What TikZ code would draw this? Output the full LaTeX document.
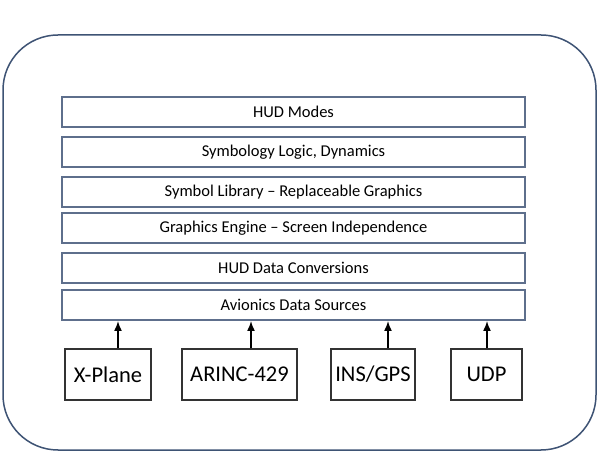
\documentclass[tikz,border=0pt]{standalone}
\usepackage{fontspec}
\setmainfont{Carlito}
\usetikzlibrary{arrows.meta}
\begin{document}
\begin{tikzpicture}[x=1pt,y=-1pt,
layer/.style={draw=layerc,line width=1.8pt,minimum width=463pt,minimum height=30pt,inner sep=0pt,font=\fontsize{16.5}{18}\selectfont},
src/.style={draw=black!80,line width=1.2pt,minimum height=51pt,inner sep=0pt,font=\fontsize{22.5}{26}\selectfont},
arr/.style={-{Latex[length=10pt,width=8pt]},line width=1.5pt}]
\definecolor{layerc}{HTML}{5E6F8C}
\definecolor{outerc}{HTML}{3E5374}
\useasboundingbox (0,0) rectangle (600,454);
\draw[outerc,line width=1.5pt,rounded corners=55pt] (3,35) rectangle (596,450);
\node[layer] (l1) at (293.5,112) {HUD Modes};
\node[layer] (l2) at (293.5,152) {Symbology Logic, Dynamics};
\node[layer] (l3) at (293.5,192) {Symbol Library -- Replaceable Graphics};
\node[layer] (l4) at (293.5,228) {Graphics Engine -- Screen Independence};
\node[layer] (l5) at (293.5,268) {HUD Data Conversions};
\node[layer] (l6) at (293.5,305) {Avionics Data Sources};
\node[src,minimum width=86pt] (s1) at (108,374.5) {X-Plane};
\node[src,minimum width=115pt] (s2) at (239.5,374.5) {ARINC-429};
\node[src,minimum width=84pt] (s3) at (373,374.5) {INS/GPS};
\node[src,minimum width=71pt] (s4) at (486.5,374.5) {UDP};
\coordinate (t1) at (118,321);
\coordinate (t2) at (251,321);
\coordinate (t3) at (388,321);
\coordinate (t4) at (487,321);
\draw[arr] (s1.north -| t1) -- (t1);
\draw[arr] (s2.north -| t2) -- (t2);
\draw[arr] (s3.north -| t3) -- (t3);
\draw[arr] (s4.north -| t4) -- (t4);
\end{tikzpicture}
\end{document}
